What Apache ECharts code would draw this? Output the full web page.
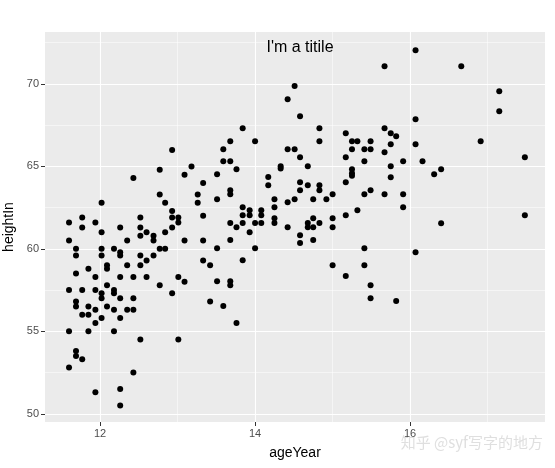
<!DOCTYPE html>
<html><head><meta charset="utf-8">
<script src="https://cdn.jsdelivr.net/npm/echarts@6/dist/echarts.min.js"></script>
<style>html,body{margin:0;padding:0;background:#fff}#c{width:555px;height:468px}</style>
</head><body><div id="c"></div>
<script>
const chartTitle = "I'm a titile";
const xName = "ageYear";
const yName = "heightIn";
const xTicks = [12, 14, 16];
const yTicks = [50, 55, 60, 65, 70];
const xMinorGrid = [13, 15, 17];
const yMinorGrid = [52.5, 57.5, 62.5, 67.5, 72.5];
const points = [
[12.93,66.0],[12.77,64.8],[13.18,65.0],[13.09,64.5],[12.43,64.3],[13.33,64.0],[12.77,63.3],[13.26,63.3],[12.02,62.8],[12.84,62.8],
[13.26,62.8],[12.93,62.3],[13.33,62.0],[11.60,61.6],[11.77,61.9],[11.94,61.6],[11.77,61.3],[12.52,61.9],[12.93,61.9],[13.01,61.9],
[13.01,61.6],[12.02,61.0],[12.26,61.3],[12.52,61.3],[12.60,61.0],[12.93,61.3],[12.69,60.8],[12.52,60.8],[12.84,61.0],[11.60,60.5],
[12.35,60.5],[12.69,60.5],[13.09,60.5],[13.33,60.5],[11.69,60.0],[12.02,60.0],[12.18,60.0],[12.26,59.8],[12.26,59.6],[12.77,60.0],
[12.84,60.0],[11.69,59.6],[12.02,59.6],[12.52,59.6],[12.69,59.6],[12.60,59.3],[13.33,59.3],[13.42,59.0],[11.85,58.8],[12.09,59.0],
[12.09,58.8],[12.35,59.0],[12.52,59.0],[11.69,58.5],[11.94,58.3],[12.26,58.3],[12.43,58.3],[12.60,58.3],[13.01,58.3],[13.09,58.0],
[12.09,57.8],[12.77,57.8],[11.60,57.5],[11.77,57.5],[11.94,57.5],[12.02,57.3],[12.02,57.0],[12.18,57.5],[12.18,57.3],[12.93,57.3],
[12.26,57.0],[12.43,57.0],[13.42,56.8],[11.69,56.8],[11.69,56.5],[11.85,56.5],[12.09,56.5],[11.94,56.3],[12.18,56.3],[12.35,56.3],
[12.43,56.3],[11.77,56.0],[11.85,56.0],[12.02,55.8],[12.26,55.8],[11.94,55.5],[11.60,55.0],[11.85,55.0],[12.18,55.0],[12.52,54.5],
[13.01,54.5],[11.69,53.8],[11.69,53.5],[11.77,53.3],[11.60,52.8],[12.43,52.5],[11.94,51.3],[12.26,51.5],[12.26,50.5],
[14.51,69.88],[14.42,69.07],[14.58,68.04],[13.84,67.31],[14.83,67.31],[15.17,67.01],[13.68,66.53],[14.00,66.53],[14.83,66.53],[15.25,66.53],
[15.32,66.53],[13.59,66.04],[14.42,66.04],[14.51,66.04],[15.25,66.04],[14.58,65.56],[15.17,65.56],[13.59,65.31],[13.68,65.31],[14.33,65.01],
[14.33,64.87],[14.68,65.01],[13.76,64.83],[13.51,64.53],[14.17,64.35],[15.25,64.83],[15.25,64.59],[15.25,64.43],[14.17,63.86],[14.58,64.04],
[14.68,63.86],[14.83,63.86],[14.83,63.56],[15.17,64.04],[13.68,63.56],[13.68,63.31],[14.58,63.56],[15.00,63.31],[13.51,63.01],[14.25,63.01],
[14.42,62.83],[14.51,63.01],[14.75,63.01],[14.92,63.01],[13.84,62.53],[14.25,62.53],[13.93,62.34],[13.93,62.04],[14.08,62.34],[14.08,62.04],
[13.84,62.04],[15.32,62.34],[14.25,61.86],[14.25,61.56],[14.75,61.86],[15.00,61.86],[15.17,62.04],[13.68,61.56],[13.84,61.56],[14.00,61.56],
[14.08,61.56],[13.76,61.31],[14.42,61.31],[14.68,61.56],[14.68,61.31],[14.75,61.31],[14.83,61.56],[15.00,61.31],[13.93,61.01],[14.58,60.83],
[14.58,60.35],[13.68,60.53],[14.75,60.53],[13.51,60.04],[14.00,60.04],[13.84,59.31],[15.00,59.01],[15.17,58.35],[13.51,58.04],[13.68,58.04],
[13.68,57.80],[13.59,56.53],[13.76,55.50],
[16.07,72.04],[15.67,71.07],[16.66,71.07],[17.15,69.55],[17.15,68.34],[16.07,67.86],[15.67,67.31],[15.75,67.01],[15.82,66.83],[15.49,66.52],
[15.75,66.34],[16.07,66.34],[16.91,66.52],[15.41,66.04],[15.49,66.04],[15.67,65.86],[15.41,65.31],[15.91,65.31],[16.16,65.31],[15.75,65.01],
[17.48,65.55],[16.31,64.52],[16.40,64.83],[15.75,64.34],[15.41,63.31],[15.49,63.55],[15.67,63.31],[15.91,63.31],[15.91,62.52],[17.48,62.04],
[16.40,61.55],[15.41,60.04],[16.07,59.80],[15.41,59.01],[15.49,57.80],[15.49,57.01],[15.82,56.83]
];
const X_MIN = 11.29, X_MAX = 17.74, Y_MIN = 49.5, Y_MAX = 73.15;

const chart = echarts.init(document.getElementById('c'));
const lbl = {color:'#4d4d4d', fontSize:11, fontFamily:'Liberation Sans, Arial'};
const gridLines = [];
xTicks.forEach(v=>gridLines.push({xAxis:v, lineStyle:{color:'#fff',width:1.1,type:'solid'}}));
xMinorGrid.forEach(v=>gridLines.push({xAxis:v, lineStyle:{color:'#fff',width:0.5,type:'solid'}}));
yTicks.forEach(v=>gridLines.push({yAxis:v, lineStyle:{color:'#fff',width:1.1,type:'solid'}}));
yMinorGrid.forEach(v=>gridLines.push({yAxis:v, lineStyle:{color:'#fff',width:0.5,type:'solid'}}));
chart.setOption({
  animation:false,
  title:{text:chartTitle, left:295, top:35, textAlign:'center',
    textStyle:{fontSize:16, fontWeight:'normal', color:'#000', fontFamily:'Liberation Sans, Arial'}},
  grid:{left:45, right:10, top:32, bottom:46, show:true, backgroundColor:'#ebebeb', borderWidth:0,
    containLabel:false, outerBoundsMode:'none'},
  xAxis:{type:'value', min:X_MIN, max:X_MAX, name:xName, nameLocation:'middle', nameGap:24,
    nameTextStyle:{fontSize:14,color:'#000',fontFamily:'Liberation Sans, Arial'},
    axisLine:{show:false}, splitLine:{show:false},
    axisTick:{show:true, customValues:xTicks, length:4, lineStyle:{color:'#333'}},
    axisLabel:{...lbl, customValues:xTicks, margin:6}},
  yAxis:{type:'value', min:Y_MIN, max:Y_MAX, name:yName, nameLocation:'middle', nameGap:27,
    nameTextStyle:{fontSize:14,color:'#000',fontFamily:'Liberation Sans, Arial'},
    axisLine:{show:false}, splitLine:{show:false},
    axisTick:{show:true, customValues:yTicks, length:4, lineStyle:{color:'#333'}},
    axisLabel:{...lbl, customValues:yTicks, margin:6}},
  graphic:[{type:'text', right:12, bottom:18, z:100,
    style:{text:'知乎 @syf写字的地方', fill:'rgba(220,220,220,0.9)', font:'15px "Noto Sans CJK SC"'}}],
  series:[{type:'scatter', data:points, symbolSize:6, itemStyle:{color:'#000', opacity:1}, z:3,
    markLine:{silent:true, symbol:'none', label:{show:false}, z:1, data:gridLines, animation:false}}]
});
</script></body></html>
